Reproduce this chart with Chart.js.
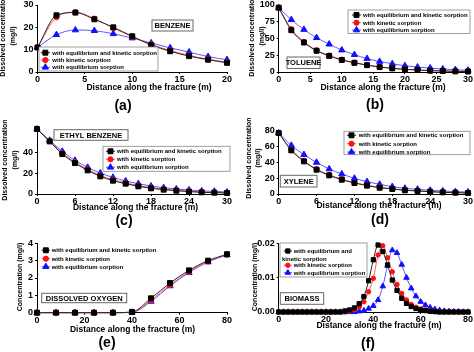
<!DOCTYPE html>
<html>
<head>
<meta charset="utf-8">
<script src="https://cdn.jsdelivr.net/npm/chart.js@4.4.1/dist/chart.umd.min.js"></script>
<style>
html, body { margin: 0; padding: 0; background: #fff; }
#wrap { position: relative; width: 474px; height: 352px; overflow: hidden; }
canvas { position: absolute; }
</style>
</head>
<body>
<div id="wrap">
  <canvas id="ca" width="237" height="118" style="left:0;top:0"></canvas>
  <canvas id="cb" width="237" height="118" style="left:237px;top:0"></canvas>
  <canvas id="cc" width="237" height="118" style="left:0;top:118px"></canvas>
  <canvas id="cd" width="237" height="118" style="left:237px;top:118px"></canvas>
  <canvas id="ce" width="237" height="116" style="left:0;top:236px"></canvas>
  <canvas id="cf" width="237" height="116" style="left:237px;top:236px"></canvas>
</div>
<script>
const seriesNames = ["with equilibrium and kinetic sorption", "with kinetic sorption", "with equilibrium sorption"];
const xTitle = "Distance along the fracture (m)";

// (a) benzene
const xA = [0, 2, 4, 6, 8, 10, 12, 14, 16, 18, 20];
const aBoth = [11, 25.4, 26.6, 23.6, 20, 16, 12.1, 9.3, 7.1, 5.5, 4.1];
const aKin = [11, 24.5, 26.8, 23.9, 19.7, 15.8, 12.4, 9.6, 7.4, 5.7, 4.4];
const aEq = [11, 16.7, 18.8, 18.5, 17.1, 15.2, 13, 10.8, 8.9, 6.9, 5.5];

// (b) toluene, (c) ethyl benzene, (d) xylene
const xB = [0, 2, 4, 6, 8, 10, 12, 14, 16, 18, 20, 22, 24, 26, 28, 30];
const bBoth = [96, 62.4, 44, 31.7, 24, 18, 13.7, 10.2, 7.3, 5.4, 3.9, 2.9, 2, 1.5, 1, 0.8];
const bKin = [96, 64, 45, 32.5, 24.6, 18.4, 14, 10.5, 7.6, 5.6, 4.1, 3, 2.1, 1.6, 1.1, 0.9];
const bEq = [96, 78, 63.4, 51.2, 41.5, 32.7, 25.9, 20, 15.6, 12.2, 9.3, 7.3, 5.9, 4.4, 3.4, 2.4];

const cBoth = [63, 51, 38.7, 30, 22.9, 17.1, 12.9, 10, 7.4, 5.5, 4.2, 3.2, 2.3, 1.6, 1.3, 1];
const cKin = [63, 51.5, 39.5, 30.8, 23.8, 18, 13.8, 10.8, 8.1, 6.1, 4.7, 3.6, 2.7, 2, 1.6, 1.3];
const cEq = [63, 52, 41.3, 32.6, 25.8, 20.3, 16.1, 12.6, 10, 7.7, 6.1, 4.8, 3.9, 2.9, 2.6, 1.9];

const dBoth = [76.6, 54.8, 41, 30.5, 23.4, 18, 13.8, 10.5, 7.9, 6.3, 4.6, 3.8, 2.9, 2.1, 1.7, 1.3];
const dKin = [76.6, 55.5, 41.8, 31.3, 24.1, 18.6, 14.3, 10.9, 8.3, 6.6, 4.9, 4, 3.1, 2.3, 1.8, 1.4];
const dEq = [76.6, 61, 49.4, 39.7, 31.4, 25.1, 19.7, 15.5, 12.1, 9.2, 7.1, 5.9, 4.6, 3.8, 2.9, 2.5];

// (e) dissolved oxygen
const xE = [0, 8, 16, 24, 32, 40, 48, 56, 64, 72, 80];
const eBoth = [0, 0, 0, 0, 0, 0.04, 0.83, 1.71, 2.44, 3.0, 3.37];
const eKin = [0, 0, 0, 0, 0, 0.03, 0.72, 1.6, 2.36, 2.95, 3.35];
const eEq = [0, 0, 0, 0, 0, 0.02, 0.65, 1.54, 2.31, 2.92, 3.33];

// (f) biomass
const xF = [0, 2, 4, 6, 8, 10, 12, 14, 16, 18, 20, 22, 24, 26, 28, 30, 32, 34, 36, 38, 40,
  42, 44, 46, 48, 50, 52, 54, 56, 58, 60, 62, 64, 66, 68, 70, 72, 74, 76, 78, 80];
const fBoth = [0, 0, 0, 0, 0, 0, 0, 0, 0, 0, 0, 0, 0, 0,
  0.0003, 0.0006, 0.0012, 0.0024, 0.0045, 0.0091, 0.0152, 0.0195, 0.0176, 0.0137, 0.0093,
  0.0063, 0.004, 0.0025, 0.0016, 0.001, 0.0006, 0.0004, 0.0002, 0.0001, 0, 0, 0, 0, 0, 0, 0];
const fKin = [0, 0, 0, 0, 0, 0, 0, 0, 0, 0, 0, 0, 0, 0, 0,
  0.0003, 0.0007, 0.0014, 0.003, 0.0059, 0.0098, 0.0166, 0.0193, 0.0158, 0.0117, 0.008,
  0.0054, 0.0035, 0.0022, 0.0014, 0.0009, 0.0006, 0.0004, 0.0002, 0.0001, 0, 0, 0, 0, 0, 0];
const fEq = [0, 0, 0, 0, 0, 0, 0, 0, 0, 0, 0, 0, 0, 0, 0, 0, 0,
  0.0002, 0.0004, 0.001, 0.0018, 0.0035, 0.0075, 0.0135, 0.018, 0.0172, 0.0138, 0.01,
  0.0069, 0.0046, 0.003, 0.002, 0.0013, 0.0008, 0.0005, 0.0003, 0.0002, 0.0001, 0.0001, 0, 0];

const FONT = '"Liberation Sans", Arial, sans-serif';
const lineColors = ["#222222", "#ff5c5c", "#5a5aff"];
const markColors = ["#000000", "#ff1010", "#1010ff"];
const markStyles = ["rect", "circle", "triangle"];

// text, boxes and legends drawn on top of each panel
const decor = {
  ca: { xt: [149, 88], yt: [["Dissolved concentration", 3.5], ["(mg/l)", 13.5]], ytY: 36,
    letter: ["(a)", 123, 106], tag: ["BENZENE", 152, 20, 41, 11],
    legend: { box: [39, 47, 119, 24], sx: [40.7, 50], tx: 52.3,
      rows: [{ ds: 0, y: 52.7 }, { ds: 1, y: 60 }, { ds: 2, y: 67.3 }] } },
  cb: { xt: [146, 88], yt: [["Dissolved concentration", 15], ["(mg/l)", 25]], ytY: 36,
    letter: ["(b)", 138, 105], tag: ["TOLUENE", 50, 57, 33, 11.5],
    legend: { box: [111, 10, 122, 23.5], sx: [115, 124], tx: 126,
      rows: [{ ds: 0, y: 15 }, { ds: 1, y: 22.7 }, { ds: 2, y: 30 }] } },
  cc: { xt: [135.5, 90], yt: [["Dissolved concentration", 5], ["(mg/l)", 15]], ytY: 42,
    letter: ["(c)", 124, 103], tag: ["ETHYL BENZENE", 54, 11.7, 74, 10.6],
    legend: { box: [103, 28.3, 127, 25], sx: [106, 115], tx: 117,
      rows: [{ ds: 0, y: 33.3 }, { ds: 1, y: 41.3 }, { ds: 2, y: 49.3 }] } },
  cd: { xt: [142, 87.7], yt: [["Dissolved concentration", 11.7], ["(mg/l)", 20.7]], ytY: 40,
    letter: ["(d)", 143, 102], tag: ["XYLENE", 43.3, 57.3, 36.7, 11.7],
    legend: { box: [107, 13.3, 126, 23.4], sx: [110, 119], tx: 121.7,
      rows: [{ ds: 0, y: 17.3 }, { ds: 1, y: 25.7 }, { ds: 2, y: 34 }] } },
  ce: { xt: [132.5, 94], yt: [["Concentration (mg/l)", 20]], ytY: 41,
    letter: ["(e)", 107, 107], tag: ["DISSOLVED OXYGEN", 41.7, 57.3, 85, 9.4],
    legend: { box: null, sx: [41.7, 50], tx: 51.7,
      rows: [{ ds: 0, y: 14.3 }, { ds: 1, y: 22.7 }, { ds: 2, y: 30.7 }] } },
  cf: { xt: [142, 90], yt: [["Concentration (mg/l)", 18.3]], ytY: 41,
    letter: ["(f)", 131, 108], tag: ["BIOMASS", 43.3, 56.7, 43.4, 11.6],
    legend: { box: [43, 7, 87, 34], sx: [46.7, 55], tx: 56.7,
      rows: [{ ds: 0, y: 15, text: "with equilibrium and" }, { ds: -1, y: 22.7, text: "kinetic sorption", tx: 45 },
        { ds: 1, y: 29.3 }, { ds: 2, y: 36.7 }] } }
};

const decorPlugin = {
  id: "decor",
  afterDraw(chart) {
    const d = decor[chart.canvas.id];
    const ctx = chart.ctx;
    ctx.save();
    ctx.fillStyle = "#000";
    ctx.textAlign = "center";
    ctx.textBaseline = "middle";
    ctx.font = "bold 8.5px " + FONT;
    ctx.fillText(xTitle, d.xt[0], d.xt[1]);
    ctx.font = "bold 7px " + FONT;
    d.yt.forEach(([txt, x]) => {
      ctx.save();
      ctx.translate(x, d.ytY);
      ctx.rotate(-Math.PI / 2);
      ctx.fillText(txt, 0, 0);
      ctx.restore();
    });
    ctx.font = "bold 14px " + FONT;
    ctx.fillText(d.letter[0], d.letter[1], d.letter[2]);

    // name tag
    const [tt, tx, ty, tw, th] = d.tag;
    ctx.fillStyle = "#fff";
    ctx.fillRect(tx, ty, tw, th);
    ctx.strokeStyle = "#666";
    ctx.lineWidth = 1;
    ctx.strokeRect(tx, ty, tw, th);
    ctx.fillStyle = "#000";
    ctx.font = "bold 7.5px " + FONT;
    ctx.fillText(tt, tx + tw / 2, ty + th / 2 + 0.5);

    // legend
    const lg = d.legend;
    if (lg.box) {
      ctx.fillStyle = "#fff";
      ctx.fillRect(lg.box[0], lg.box[1], lg.box[2], lg.box[3]);
      ctx.strokeStyle = "#888";
      ctx.lineWidth = 0.8;
      ctx.strokeRect(lg.box[0], lg.box[1], lg.box[2], lg.box[3]);
    }
    ctx.font = "bold 6px " + FONT;
    ctx.textAlign = "left";
    lg.rows.forEach(r => {
      if (r.ds >= 0) {
        const ds = chart.data.datasets[r.ds];
        ctx.strokeStyle = ds.borderColor;
        ctx.lineWidth = 1;
        ctx.beginPath();
        ctx.moveTo(lg.sx[0], r.y);
        ctx.lineTo(lg.sx[1], r.y);
        ctx.stroke();
        ctx.fillStyle = ds.backgroundColor;
        ctx.strokeStyle = ds.pointBorderColor;
        Chart.helpers.drawPoint(ctx, { pointStyle: ds.pointStyle, radius: ds.pointRadius, borderWidth: 1, rotation: 0 },
          (lg.sx[0] + lg.sx[1]) / 2, r.y);
      }
      ctx.fillStyle = "#000";
      ctx.fillText(r.text || seriesNames[r.ds], r.tx !== undefined ? r.tx : lg.tx, r.y + 0.5);
    });
    ctx.restore();
  }
};

function makeSets(xs, rows, radii) {
  return rows.map((ys, i) => ({
    label: seriesNames[i],
    data: xs.map((x, k) => ({ x: x, y: ys[k] })),
    borderColor: lineColors[i],
    backgroundColor: markColors[i],
    pointBorderColor: markColors[i],
    pointBackgroundColor: markColors[i],
    pointStyle: markStyles[i],
    pointRadius: radii[i],
    pointBorderWidth: 1,
    borderWidth: 1,
    cubicInterpolationMode: "monotone",
    clip: false
  }));
}

function tickFont(size) {
  return { family: FONT, size: size, weight: "bold" };
}

function makeChart(id, size, area, xs, rows, radii, xr, yr) {
  const [W, H] = size;
  const [left, right, top, bottom] = area;
  const xAxisH = 14;
  new Chart(document.getElementById(id), {
    type: "line",
    data: { datasets: makeSets(xs, rows, radii) },
    options: {
      responsive: false,
      animation: false,
      layout: { padding: { left: 0, top: top, right: W - right, bottom: H - bottom - xAxisH } },
      plugins: { legend: { display: false }, tooltip: { enabled: false } },
      scales: {
        x: {
          type: "linear", min: xr[0], max: xr[1],
          ticks: { stepSize: xr[2], font: tickFont(9), color: "#000", padding: 0, maxRotation: 0, autoSkip: false },
          grid: { drawOnChartArea: false, drawTicks: true, tickLength: 2, color: "#000" },
          border: { color: "#000", width: 1 },
          afterFit(s) { s.height = xAxisH; s.paddingLeft = 0; s.paddingRight = 0; }
        },
        y: {
          type: "linear", min: yr[0], max: yr[1],
          ticks: { stepSize: yr[2], font: tickFont(9), color: "#000", padding: 2,
            callback: yr[3] || (v => v) },
          grid: { drawOnChartArea: false, drawTicks: true, tickLength: 2, color: "#000" },
          border: { color: "#000", width: 1 },
          afterBuildTicks(s) { s.ticks = s.ticks.filter(t => Math.abs(t.value / yr[2] - Math.round(t.value / yr[2])) < 1e-6); },
          afterFit(s) { s.width = left; s.paddingTop = 0; s.paddingBottom = 0; }
        }
      }
    },
    plugins: [decorPlugin]
  });
}

const big = [3.5, 2.6, 3.6];
const small = [3, 2.2, 3.2];
makeChart("ca", [237, 118], [37.5, 227, 4, 72], xA, [aBoth, aKin, aEq], big, [0, 20, 5], [0, 30, 10]);
makeChart("cb", [237, 118], [41.7, 231, 3.5, 72], xB, [bBoth, bKin, bEq], big, [0, 30, 5], [0, 100, 25]);
makeChart("cc", [237, 118], [37, 227, 10, 76], xB, [cBoth, cKin, cEq], big, [0, 30, 6], [0, 64, 20]);
makeChart("cd", [237, 118], [41.7, 231, 12.3, 76], xB, [dBoth, dKin, dEq], big, [0, 30, 6], [0, 80, 20]);
makeChart("ce", [237, 116], [37, 227, 7.3, 76.7], xE, [eBoth, eKin, eEq], big, [0, 80, 20], [0, 4, 1]);
makeChart("cf", [237, 116], [41.7, 231, 7.3, 76], xF, [fBoth, fKin, fEq], small, [0, 80, 20], [0, 0.02, 0.01, v => v.toFixed(2)]);
</script>
</body>
</html>
